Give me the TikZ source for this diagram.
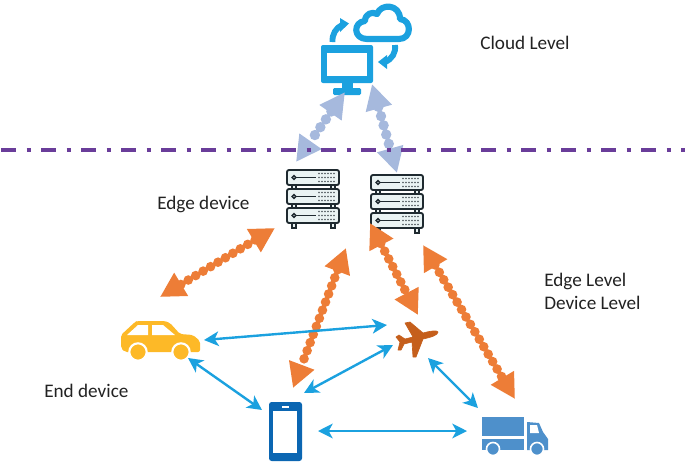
\documentclass[tikz,border=0pt]{standalone}
\usepackage{fontspec}
\setmainfont{Carlito}
\usetikzlibrary{arrows.meta}
\definecolor{cblue}{HTML}{1BA1DF}
\definecolor{lav}{HTML}{A6B9DD}
\definecolor{org}{HTML}{ED7D37}
\definecolor{purp}{HTML}{6A3D9A}
\definecolor{caryel}{HTML}{FDB927}
\definecolor{planec}{HTML}{C55F1C}
\definecolor{truckc}{HTML}{4E90CB}
\definecolor{phonec}{HTML}{0B66B2}
\definecolor{srvfill}{HTML}{EAF3F3}
\definecolor{srvline}{HTML}{1F2A30}
\definecolor{txt}{HTML}{222222}
\tikzset{
  x=0.75pt,y=-0.75pt,
  lbl/.style={font=\fontsize{14.4pt}{16pt}\selectfont,text=txt,inner sep=0pt,anchor=base west},
  lavlink/.style={draw=lav,line width=7.8pt,line cap=round,dash pattern=on 0pt off 7.2pt,
    {Triangle[length=19pt,width=19pt,fill=lav]}-{Triangle[length=19pt,width=19pt,fill=lav]}},
  orglink/.style={draw=org,line width=7.2pt,line cap=round,dash pattern=on 0pt off 6.5pt,
    {Triangle[length=18.5pt,width=19pt,fill=org]}-{Triangle[length=18.5pt,width=19pt,fill=org]}},
  bluelink/.style={draw=cblue,line width=1.8pt,
    {Stealth[length=11pt,width=11pt,inset=3pt]}-{Stealth[length=11pt,width=11pt,inset=3pt]}},
  srvunit/.style={draw=srvline,fill=srvfill,line width=1.4pt,rounded corners=1.5pt},
  pics/server/.style={code={
    \foreach \yy in {0,19,38}{
      \draw[srvline,line width=1.2pt,fill=srvfill] (5,\yy+14) rectangle (9,\yy+20);
      \draw[srvline,line width=1.2pt,fill=srvfill] (44,\yy+14) rectangle (48,\yy+20);
      \draw[srvunit] (0,\yy) rectangle (52,\yy+15);
      \draw[srvline,line width=1.1pt,fill=srvfill] (7,\yy+7.5) circle (1.9);
      \draw[srvline,line width=1.1pt] (9,\yy+7.5) -- (29,\yy+7.5);
      \foreach \dx in {32,35,38,41,44,47}{
        \foreach \dy in {3.5,7.5,11.5}{
          \fill[srvline!80] (\dx,\yy+\dy) circle (0.95);
        }
      }
    }
  }}
}
\begin{document}
\begin{tikzpicture}
\useasboundingbox (0,0) rectangle (685,472);
% named end points of the connectors
\coordinate (monA) at (345,92);
\coordinate (monB) at (372,84);
\coordinate (srvA) at (296,162);
\coordinate (srvB) at (397,173);
\coordinate (srvC) at (275,228);
\coordinate (carO) at (160,297);
\coordinate (srvD) at (346,248);
\coordinate (phoneO) at (293,388);
\coordinate (srvE) at (370,223);
\coordinate (planeO) at (418,315);
\coordinate (srvF) at (423,245);
\coordinate (truckO) at (515,399);
\coordinate (carE) at (204,340);
\coordinate (planeW) at (387,325);
\coordinate (carS) at (188,358);
\coordinate (phoneN) at (262,410);
\coordinate (phoneE) at (304,393);
\coordinate (planeS) at (393,345);
\coordinate (planeSE) at (428,358);
\coordinate (truckW) at (478,408);
\coordinate (phoneR) at (318,431);
\coordinate (truckL) at (467,431);

% servers
\pic at (287,170) {server};
\pic at (371,175) {server};

% monitor
\fill[cblue,rounded corners=1.5pt] (321,45) rectangle (373,83);
\fill[white] (327,53) rectangle (367,76);
\fill[cblue] (342,83) rectangle (353,89);
\fill[cblue,rounded corners=1pt] (333,88) rectangle (361,95);
% cloud
\draw[cblue,line width=4.6pt,line join=round,fill=white]
  (367,39) .. controls (353,39) and (353,22) .. (365,21)
  .. controls (365,14) and (372,11) .. (377,14)
  .. controls (381,3) and (400,4) .. (400,19)
  .. controls (412,20) and (412,39) .. (399,39) -- cycle;
% rotating arrows
\draw[cblue,line width=4.4pt] (332.5,42) .. controls (332,34) and (336,28) .. (342,25);
\fill[cblue] (340,18) -- (349,23.5) -- (340,32) -- cycle;
\draw[cblue,line width=4.4pt] (395,45) .. controls (396,53) and (392,59) .. (385,62);
\fill[cblue] (378,62) -- (387,55) -- (387,69) -- cycle;

% car
\fill[caryel,rounded corners=1.5pt]
  (121,335) -- (135,322) -- (137,321) -- (165,321) -- (170,323) -- (180,334)
  -- (193,335) -- (200,341) -- (200,352) -- (125,352) -- (121,348) -- cycle;
\fill[white] (127,335) -- (138,325) -- (148,325) -- (148,335) -- cycle;
\fill[white] (152,325) -- (163,325) -- (175,335) -- (152,335) -- cycle;
\fill[caryel,draw=white,line width=1.6pt] (138,352) circle (8.7);
\fill[caryel,draw=white,line width=1.6pt] (181,352) circle (8.7);

% plane
\fill[planec,line join=round,draw=planec,line width=.5pt]
  (438,332) .. controls (438,335) and (432,337) .. (423,339)
  -- (416,357) -- (413,357) -- (412,342) -- (404,344) -- (401,350) -- (398,350)
  -- (400,342) -- (396,337) -- (399,335) -- (405,339) -- (413,337)
  -- (405,323) -- (410,322) -- (423,333) .. controls (430,331) and (437,330) .. (438,332) -- cycle;

% phone
\fill[phonec,rounded corners=2pt] (269,402) rectangle (302,461);
\fill[white] (273,411) rectangle (297,453);
\fill[white] (282,405.5) rectangle (289,408);

% truck
\fill[truckc] (482,417) rectangle (524,436);
\fill[truckc] (482,439) rectangle (524,450);
\fill[truckc] (527,422) -- (539,423) -- (543,432) -- (548,439) -- (548,450) -- (527,450) -- cycle;
\fill[white] (530,425) -- (537,425) -- (539,433) -- (530,433) -- cycle;
\fill[truckc,draw=white,line width=1.2pt] (493,449) circle (6.5);
\fill[truckc,draw=white,line width=1.2pt] (537,449) circle (6.5);

% connectors
\draw[lavlink] (monA) -- (srvA);
\draw[lavlink] (monB) -- (srvB);
\draw[orglink] (srvC) -- (carO);
\draw[orglink] (srvD) -- (phoneO);
\draw[orglink] (srvE) -- (planeO);
\draw[orglink] (srvF) -- (truckO);
\draw[bluelink] (carE) -- (planeW);
\draw[bluelink] (carS) -- (phoneN);
\draw[bluelink] (phoneE) -- (planeS);
\draw[bluelink] (planeSE) -- (truckW);
\draw[bluelink] (phoneR) -- (truckL);

% level line
\coordinate (lineL) at (-39,150);
\coordinate (lineR) at (685,150);
\draw[purp,line width=3pt,dash pattern=on 11.2pt off 8pt on 3pt off 7.8pt] (lineL) -- (lineR);

% labels
\node[lbl] (cloudlbl) at (480,49) {Cloud Level};
\node[lbl] (edgedev) at (157,209) {Edge device};
\node[lbl] (edgelvl) at (544,286) {Edge Level};
\node[lbl] (devlvl) at (544,309) {Device Level};
\node[lbl] (enddev) at (44,397) {End device};
\end{tikzpicture}
\end{document}
